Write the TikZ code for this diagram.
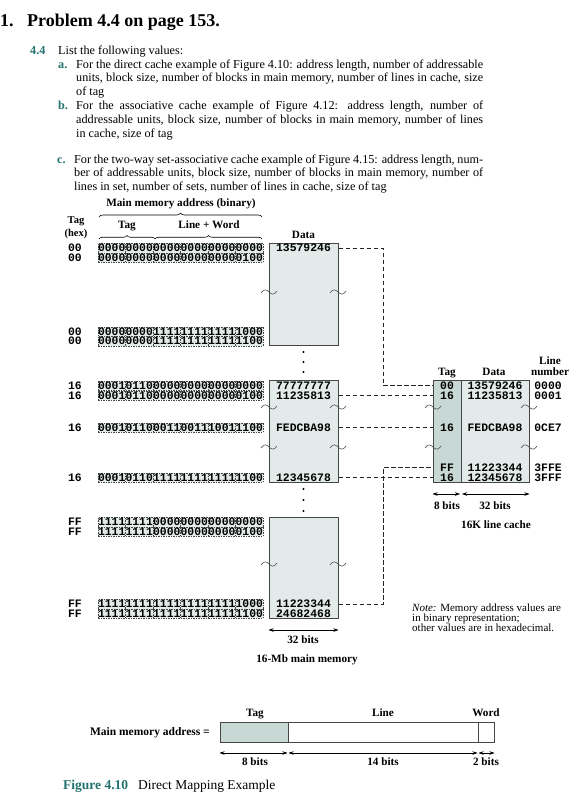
\documentclass[tikz,border=0pt]{standalone}
\usepackage{fontspec}
\setmainfont{Liberation Serif}
\setmonofont{Liberation Mono}
\usetikzlibrary{arrows.meta,decorations.pathreplacing}
\definecolor{teal1}{RGB}{35,115,110}
\definecolor{memfill}{RGB}{226,235,233}
\definecolor{tagfill}{RGB}{200,216,212}
\definecolor{edgec}{RGB}{70,70,70}
\newcommand\mybody{\fontsize{12.2}{13.5}\selectfont}
\newcommand\myfig{\fontsize{11.2}{12}\selectfont\bfseries}
\newcommand\mymono{\fontsize{11.4}{11}\selectfont\ttfamily\bfseries}
\tikzset{
 txt/.style={inner sep=0pt, anchor=base west, font=\mybody},
 lab/.style={inner sep=0pt, font=\mybody\bfseries, text=teal1, anchor=base west},
 lbl/.style={inner sep=0pt, font=\myfig, text height=7.5pt, text depth=0pt},
 mono/.style={inner sep=0pt, font=\mymono, text height=7pt, text depth=0pt},
 grp/.style={draw=edgec, dash pattern=on 1.5pt off 1pt, line width=0.4pt, fill=memfill,
   minimum width=27.5pt, minimum height=9.5pt, inner sep=0pt, font=\mymono},
 memblk/.style={draw=edgec, line width=1pt, fill=memfill, minimum width=69pt, inner sep=0pt},
 conn/.style={draw=black!85, line width=0.8pt, dash pattern=on 4.5pt off 2.5pt},
 dimarr/.style={{Stealth[length=5pt,width=3.5pt]}-{Stealth[length=5pt,width=3.5pt]}, line width=0.6pt},
 dotn/.style={circle, fill=black, inner sep=0pt, minimum size=2.4pt},
 brk/.pic={\draw[line width=0.6pt, black!70] (-8,1) .. controls (-5,-4) and (-2,-2) .. (0,0) .. controls (2,2) and (5,4) .. (8,-1);}
}
\newcommand\addrrow[4]{%
  \node[mono] (#1h) at (75,#2) {#3};
  \foreach \g [count=\i from 0] in {#4}{
    \node[grp] (#1g\i) at ({111.75+27.5*\i},#2) {\g};
  }
}
\begin{document}
\begin{tikzpicture}[x=1pt,y=-1pt]
\fill[white] (0,0) rectangle (577,805);
\useasboundingbox (0,0) rectangle (577,805);

% title
\node[inner sep=0pt, anchor=base west, font=\fontsize{18}{20}\selectfont\bfseries] (t1) at (0,26.5) {1.};
\node[inner sep=0pt, anchor=base west, font=\fontsize{18}{20}\selectfont\bfseries] (t2) at (27,26.5) {Problem 4.4 on page 153.};

% problem text
\node[lab] (n44) at (30,54.5) {4.4};
\node[txt] (l0) at (58,54.5) {List the following values:};
\node[lab] (la) at (58,68.5) {a.};
\node[txt] (a1) at (76,68.5) {\makebox[407pt][s]{For the direct cache example of Figure 4.10: address length, number of addressable}};
\node[txt] (a2) at (76,82) {\makebox[407pt][s]{units, block size, number of blocks in main memory, number of lines in cache, size}};
\node[txt] (a3) at (76,95.5) {of tag};
\node[lab] (lb) at (58,110) {b.};
\node[txt] (b1) at (76,110) {\makebox[407pt][s]{For the associative cache example of Figure 4.12: address length, number of}};
\node[txt] (b2) at (76,124) {\makebox[407pt][s]{addressable units, block size, number of blocks in main memory, number of lines}};
\node[txt] (b3) at (76,138) {in cache, size of tag};
\node[lab] (lc) at (57,163.5) {c.};
\node[txt] (c1) at (74,163.5) {\makebox[409pt][s]{For the two-way set-associative cache example of Figure 4.15: address length, num-}};
\node[txt] (c2) at (74,177) {\makebox[409pt][s]{ber of addressable units, block size, number of blocks in main memory, number of}};
\node[txt] (c3) at (74,190.5) {lines in set, number of sets, number of lines in cache, size of tag};

% headers
\node[lbl] (hmma) at (181,203) {Main memory address (binary)};
\draw[decorate, decoration={brace, amplitude=4pt}, line width=0.6pt] (99,217) -- (262,217);
\node[lbl, font=\fontsize{10.5}{11}\selectfont\bfseries] (htag) at (76,220) {Tag};
\node[lbl, font=\fontsize{10.5}{11}\selectfont\bfseries] (hhex) at (76,233) {(hex)};
\node[lbl] (htag2) at (127,225) {Tag};
\node[lbl] (hlw) at (209,225) {Line + Word};
\draw[decorate, decoration={brace, amplitude=3.5pt}, line width=0.6pt] (99,239) -- (155,239);
\draw[decorate, decoration={brace, amplitude=3.5pt}, line width=0.6pt] (155,239) -- (262,239);
\node[lbl] (hdata) at (303.5,235) {Data};

% main memory blocks
\node[memblk, minimum height=102pt] (blk1) at (303.5,294) {};
\node[memblk, minimum height=102pt] (blk2) at (303.5,431) {};
\node[memblk, minimum height=101pt] (blk3) at (303.5,567.5) {};

% address rows
\addrrow{r1}{248}{00}{0000,0000,0000,0000,0000,0000}
\addrrow{r2}{257.5}{00}{0000,0000,0000,0000,0000,0100}
\addrrow{r3}{331.5}{00}{0000,0000,1111,1111,1111,1000}
\addrrow{r4}{341}{00}{0000,0000,1111,1111,1111,1100}
\addrrow{r5}{385.5}{16}{0001,0110,0000,0000,0000,0000}
\addrrow{r6}{395.5}{16}{0001,0110,0000,0000,0000,0100}
\addrrow{r7}{427.5}{16}{0001,0110,0011,0011,1001,1100}
\addrrow{r8}{477.5}{16}{0001,0110,1111,1111,1111,1100}
\addrrow{r9}{522}{FF}{1111,1111,0000,0000,0000,0000}
\addrrow{r10}{531.5}{FF}{1111,1111,0000,0000,0000,0100}
\addrrow{r11}{604}{FF}{1111,1111,1111,1111,1111,1000}
\addrrow{r12}{613.5}{FF}{1111,1111,1111,1111,1111,1100}

% data values
\node[mono] (d1) at (303.5,248) {13579246};
\node[mono] (d2) at (303.5,385.5) {77777777};
\node[mono] (d3) at (303.5,395.5) {11235813};
\node[mono] (d4) at (303.5,427.5) {FEDCBA98};
\node[mono] (d5) at (303.5,477.5) {12345678};
\node[mono] (d6) at (303.5,604) {11223344};
\node[mono] (d7) at (303.5,613.5) {24682468};

% breaks
\foreach \yy in {292} {\pic at (269,\yy) {brk}; \pic at (338,\yy) {brk};}
\foreach \yy in {407,447} {\pic at (269,\yy) {brk}; \pic at (338,\yy) {brk};}
\foreach \yy in {564} {\pic at (269,\yy) {brk}; \pic at (338,\yy) {brk};}

% dots
\node[dotn] (dt1) at (303.5,352) {};
\node[dotn] (dt2) at (303.5,362) {};
\node[dotn] (dt3) at (303.5,372) {};
\node[dotn] (dt4) at (303.5,489) {};
\node[dotn] (dt5) at (303.5,500) {};
\node[dotn] (dt6) at (303.5,511) {};

% main memory dims
\coordinate (mrow) at (0,630);
\draw[dimarr] (blk3.west |- mrow) -- (blk3.east |- mrow);
\node[lbl] (m32) at (303,640) {32 bits};
\node[lbl] (mname) at (307,659) {16-Mb main memory};

% cache
\node[draw=edgec, line width=1pt, fill=tagfill, minimum width=28pt, minimum height=102pt, inner sep=0pt] (ctag) at (447,431) {};
\node[draw=edgec, line width=1pt, fill=memfill, minimum width=68pt, minimum height=102pt, inner sep=0pt] (cdata) at (495,431) {};
\node[lbl] (chtag) at (447,372) {Tag};
\node[lbl] (chdata) at (494,372) {Data};
\node[lbl] (chline) at (550,361) {Line};
\node[lbl] (chnum) at (550,372) {number};
\node[mono] (ct1) at (447,385.5) {00};
\node[mono] (ct2) at (447,395.5) {16};
\node[mono] (ct3) at (447,427.5) {16};
\node[mono] (ct4) at (447,467.5) {FF};
\node[mono] (ct5) at (447,477.5) {16};
\node[mono] (cd1) at (495,385.5) {13579246};
\node[mono] (cd2) at (495,395.5) {11235813};
\node[mono] (cd3) at (495,427.5) {FEDCBA98};
\node[mono] (cd4) at (495,467.5) {11223344};
\node[mono] (cd5) at (495,477.5) {12345678};
\node[mono] (cl1) at (548,385.5) {0000};
\node[mono] (cl2) at (548,395.5) {0001};
\node[mono] (cl3) at (548,427.5) {0CE7};
\node[mono] (cl4) at (548,467.5) {3FFE};
\node[mono] (cl5) at (548,477.5) {3FFF};
\foreach \yy in {407,447} {\pic at (433,\yy) {brk}; \pic at (529,\yy) {brk};}
\coordinate (crow) at (0,494);
\draw[dimarr, shorten >=1.5pt] (ctag.west |- crow) -- (ctag.east |- crow);
\draw[dimarr, shorten <=1.5pt] (cdata.west |- crow) -- (cdata.east |- crow);
\node[lbl] (c8) at (447,506) {8 bits};
\node[lbl] (c32) at (495,506) {32 bits};
\node[lbl] (cname) at (496,525) {16K line cache};

% connectors
\coordinate (jx) at (383,0);
\draw[conn] (d1 -| blk1.east) -| (jx |- ct1) -- (ct1 -| ctag.west);
\draw[conn] (d3 -| blk2.east) -- (ct2 -| ctag.west);
\draw[conn] (d4 -| blk2.east) -- (ct3 -| ctag.west);
\draw[conn] (d5 -| blk2.east) -- (ct5 -| ctag.west);
\draw[conn] (d6 -| blk3.east) -| (jx |- ct4) -- (ct4 -| ctag.west);

% note
\node[inner sep=0pt, anchor=base west, font=\fontsize{11}{10}\selectfont] (note1) at (412,611) {\textit{Note:} Memory address values are};
\node[inner sep=0pt, anchor=base west, font=\fontsize{11}{10}\selectfont] (note2) at (412,621) {in binary representation;};
\node[inner sep=0pt, anchor=base west, font=\fontsize{11}{10}\selectfont] (note3) at (412,631) {other values are in hexadecimal.};

% address format
\node[lbl, font=\fontsize{11.5}{12}\selectfont\bfseries, anchor=east] (mma) at (210,732) {Main memory address =};
\node[draw=edgec, line width=1pt, fill=tagfill, minimum width=68pt, minimum height=20pt, inner sep=0pt] (atag) at (254,732) {};
\node[draw=edgec, line width=1pt, fill=white, minimum width=190pt, minimum height=20pt, inner sep=0pt] (aline) at (383,732) {};
\node[draw=edgec, line width=1pt, fill=white, minimum width=16pt, minimum height=20pt, inner sep=0pt] (aword) at (486,732) {};
\node[lbl] (ltag) at (255,713) {Tag};
\node[lbl] (lline) at (383,713) {Line};
\node[lbl] (lword) at (486,713) {Word};
\coordinate (arow) at (0,753);
\draw[dimarr, shorten >=1pt] (atag.west |- arow) -- (atag.east |- arow);
\draw[dimarr, shorten <=1pt, shorten >=1pt] (aline.west |- arow) -- (aline.east |- arow);
\draw[dimarr, shorten <=1pt] (aword.west |- arow) -- (aword.east |- arow);
\node[lbl] (b8) at (255,762) {8 bits};
\node[lbl] (b14) at (383,762) {14 bits};
\node[lbl] (b2) at (486,762) {2 bits};

% caption
\node[inner sep=0pt, anchor=base west, font=\fontsize{13.5}{14}\selectfont\bfseries, text=teal1] (cap1) at (63,789) {Figure 4.10};
\node[inner sep=0pt, anchor=base west, font=\fontsize{13.5}{14}\selectfont] (cap2) at (138,789) {Direct Mapping Example};
\end{tikzpicture}
\end{document}
